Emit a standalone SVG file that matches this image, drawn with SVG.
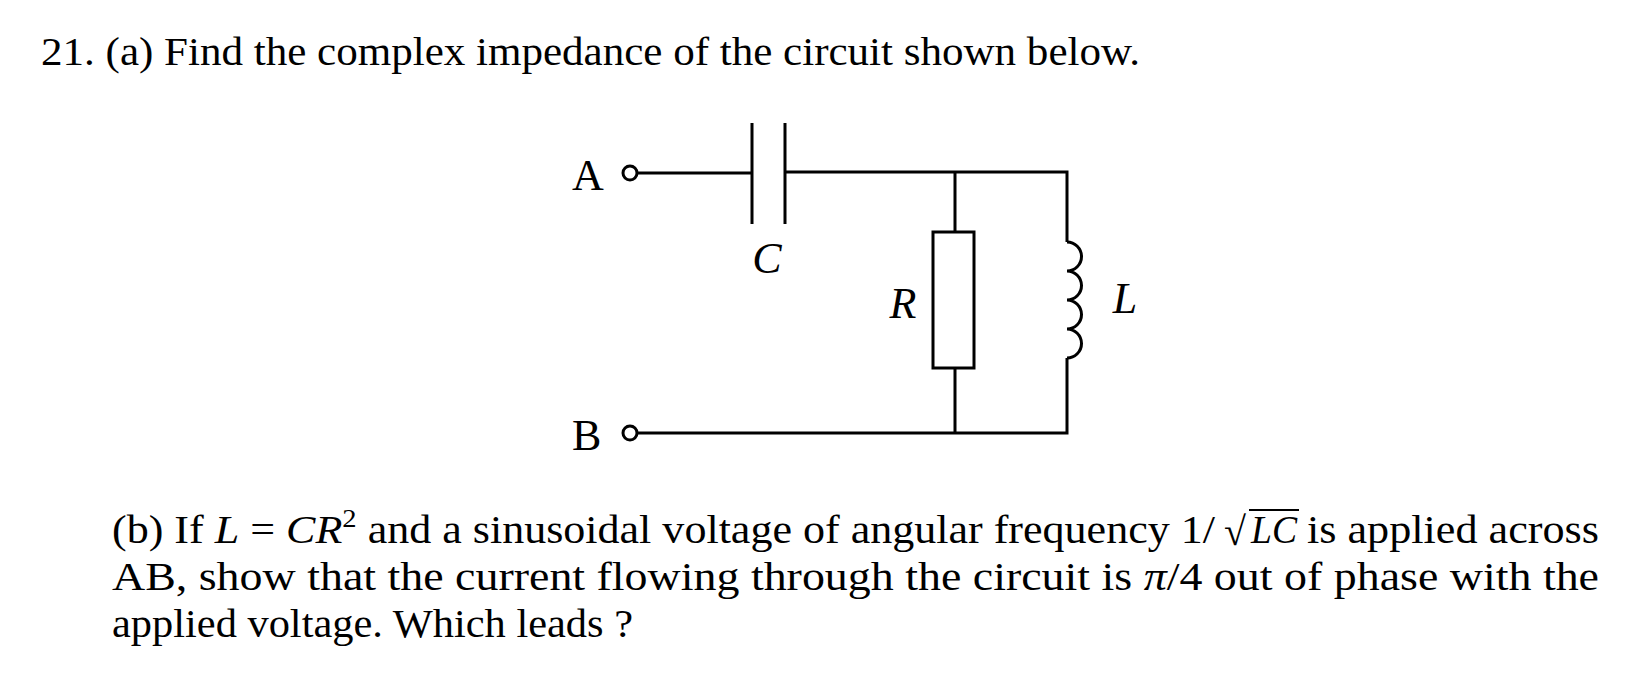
<svg xmlns="http://www.w3.org/2000/svg" width="1628" height="682" viewBox="0 0 1628 682">
<style>
text{font-family:"Liberation Serif","DejaVu Serif",serif;font-size:40px;fill:#000}
.m{font-style:italic}
.w{stroke:#000;stroke-width:3;fill:none}
.lbl{font-size:44px}
</style>
<rect width="1628" height="682" fill="#fff"/>
<text x="41" y="65" textLength="1099" lengthAdjust="spacingAndGlyphs">21.  (a) Find the complex impedance of the circuit shown below.</text>
<g id="connectors">
<path class="w" d="M637 173H752M785 172H1067V242M1067 358V433H955M955 172V232M955 368V433M637 433H955"/>
</g>
<g id="nodeA"><circle class="w" cx="630" cy="173" r="7" stroke-width="2.5"/><text class="lbl" x="572" y="190">A</text></g>
<g id="nodeB"><circle class="w" cx="630" cy="433" r="7" stroke-width="2.5"/><text class="lbl" x="572" y="450">B</text></g>
<g id="capacitor"><path class="w" d="M752 123V224M785 123V224"/><text class="lbl m" x="767" y="273" text-anchor="middle">C</text></g>
<g id="resistor"><rect class="w" x="933" y="232" width="41" height="136"/><text class="lbl m" x="903" y="318" text-anchor="middle">R</text></g>
<g id="inductor"><path class="w" d="M1067 242a14.5 14.5 0 0 1 0 29a14.5 14.5 0 0 1 0 29a14.5 14.5 0 0 1 0 29a14.5 14.5 0 0 1 0 29"/><text class="lbl m" x="1125" y="313" text-anchor="middle">L</text></g>
<text x="112" y="543" textLength="1103" lengthAdjust="spacingAndGlyphs">(b) If <tspan class="m">L</tspan> = <tspan class="m">CR</tspan><tspan font-size="26" dy="-16">2</tspan><tspan dy="16"> and a sinusoidal voltage of angular frequency 1/</tspan></text>
<text x="1224" y="545" font-size="44" font-family="DejaVu Serif">√</text>
<line x1="1249" y1="510" x2="1299" y2="510" stroke="#000" stroke-width="2"/>
<text class="m" x="1251" y="543" textLength="46" lengthAdjust="spacingAndGlyphs">LC</text>
<text x="1307" y="543" textLength="292" lengthAdjust="spacingAndGlyphs">is applied across</text>
<text x="112" y="590" textLength="1487" lengthAdjust="spacingAndGlyphs">AB, show that the current flowing through the circuit is <tspan class="m">π</tspan>/4 out of phase with the</text>
<text x="112" y="637" textLength="521" lengthAdjust="spacingAndGlyphs">applied voltage. Which leads ?</text>
</svg>
